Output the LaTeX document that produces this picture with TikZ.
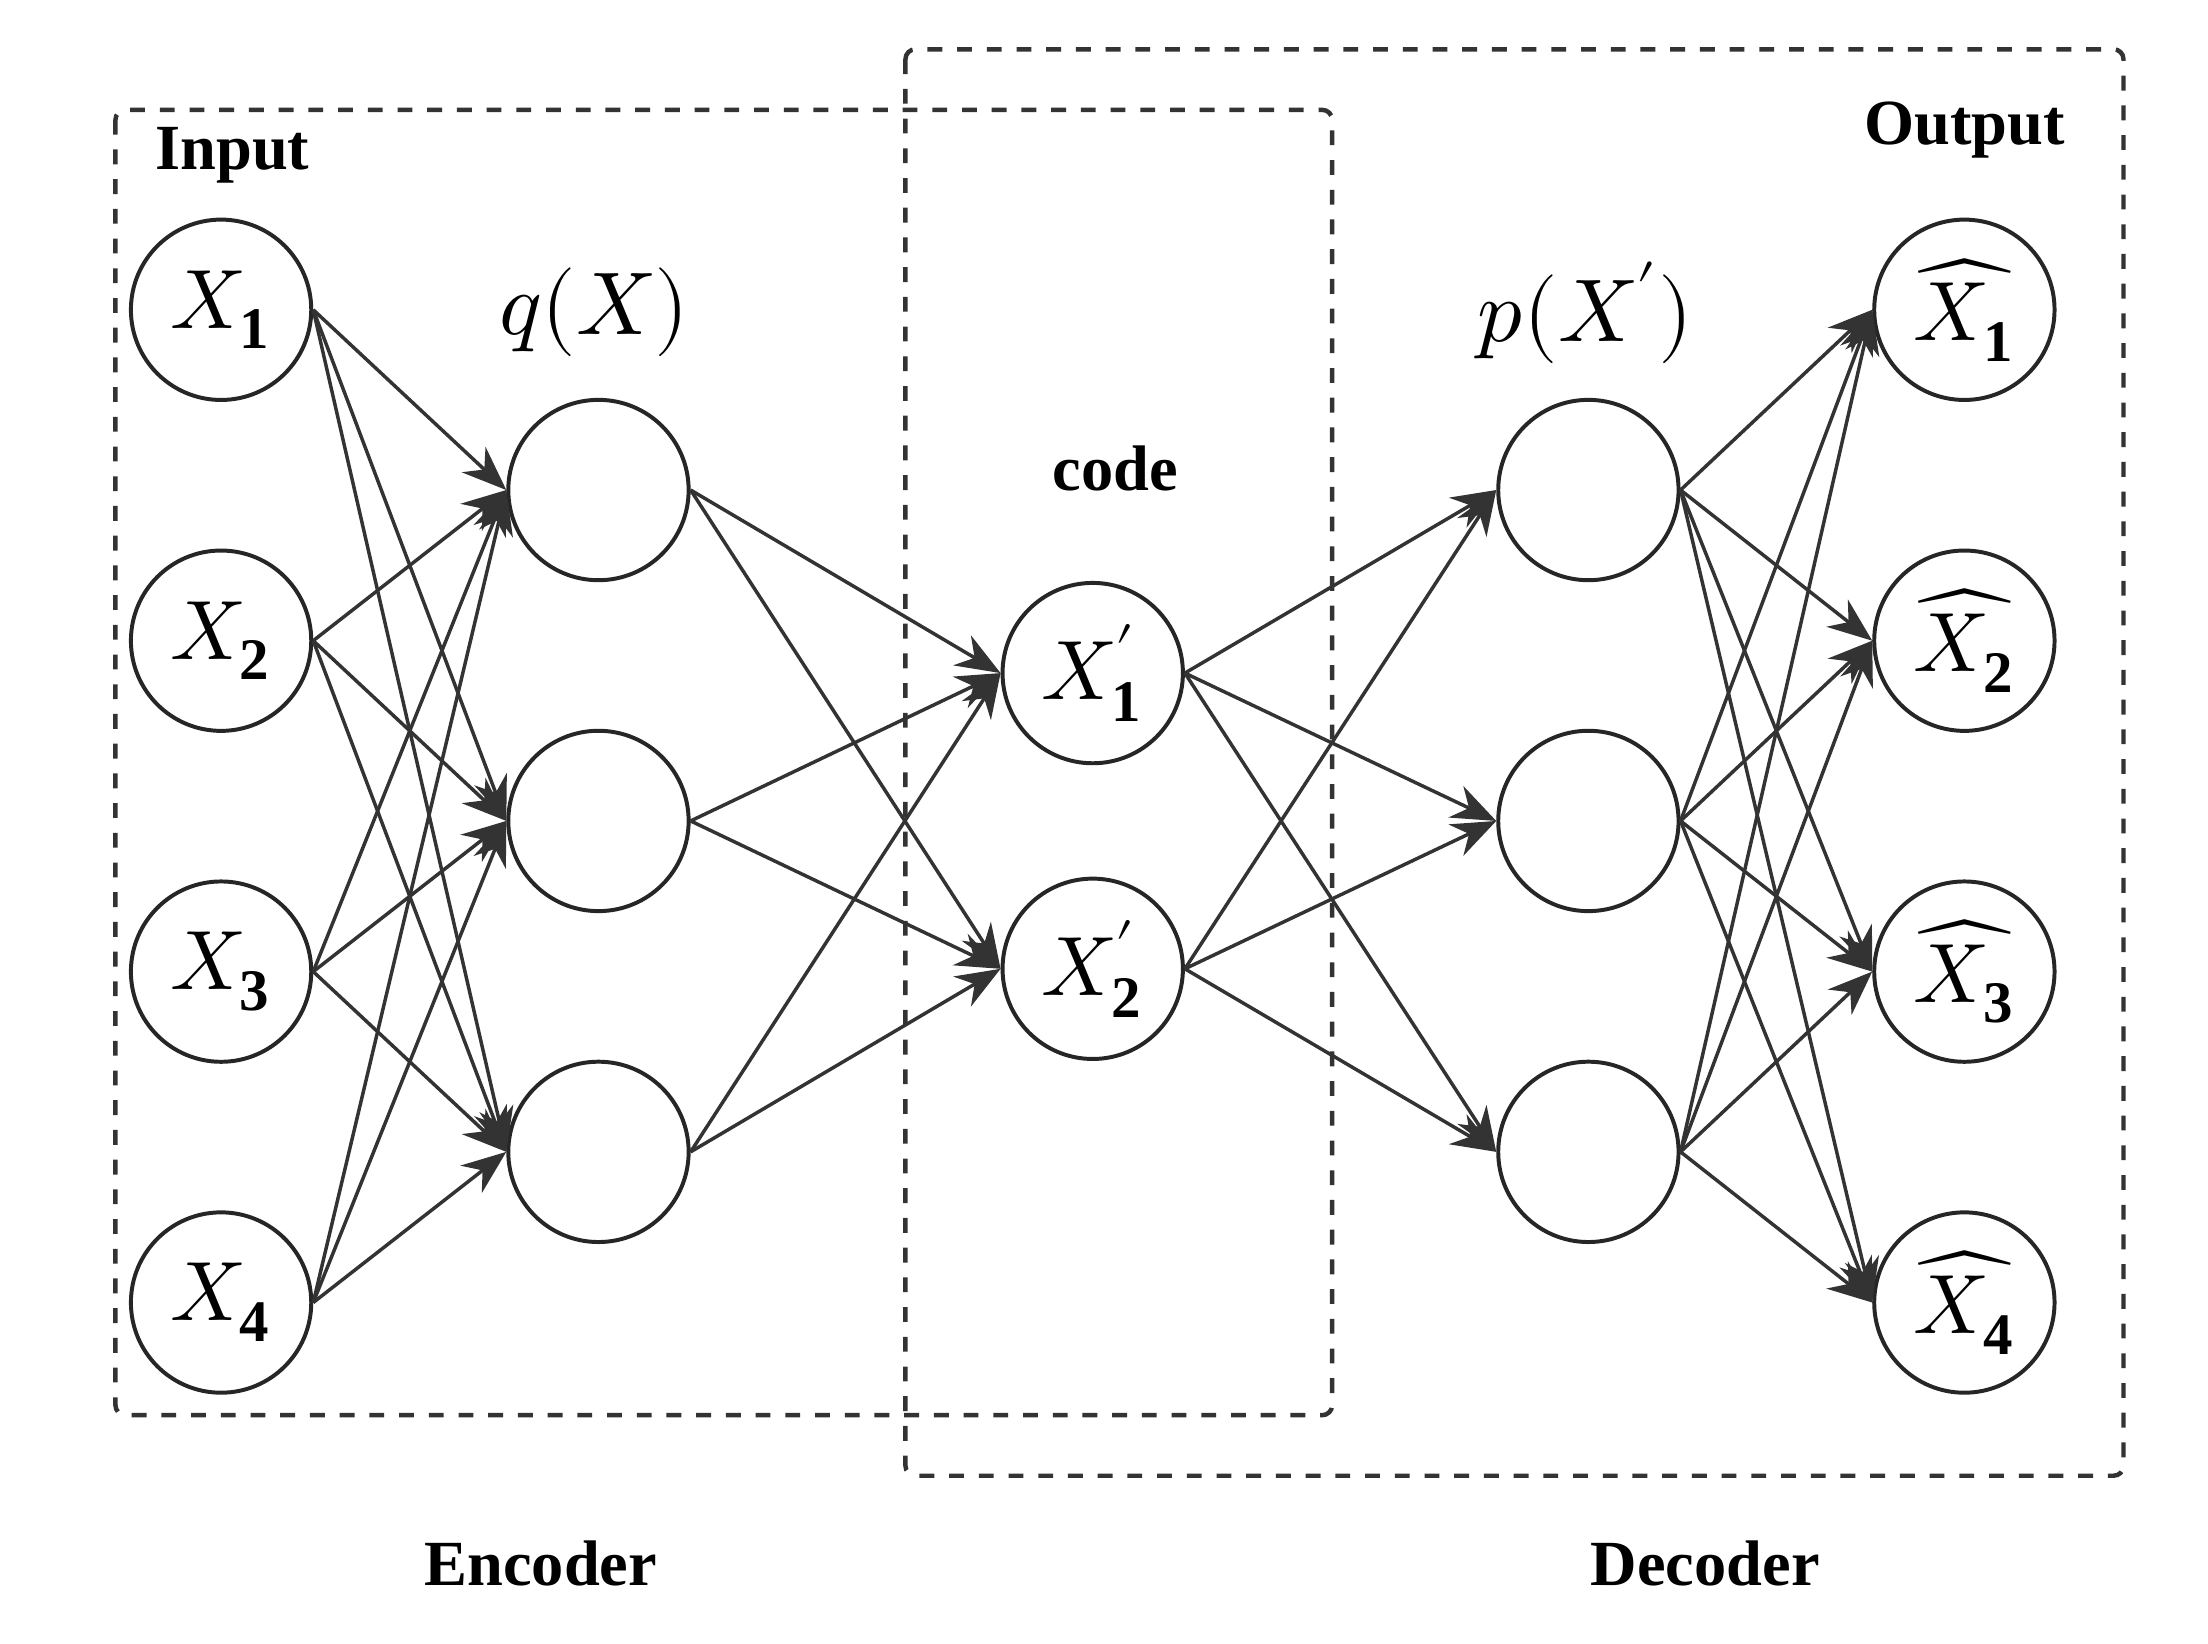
\documentclass[tikz,border=0pt]{standalone}
\usepackage{fontspec}
\setmainfont{Liberation Serif}
\usepackage{unicode-math}
\setmathfont{Latin Modern Math}
\usetikzlibrary{arrows.meta}
\begin{document}
\begin{tikzpicture}[x=0.01cm,y=-0.01cm,
  neuron/.style={circle,draw=black!85,line width=0.8pt,minimum size=1.28cm,inner sep=0pt,font=\fontsize{17}{20}\selectfont},
  edge/.style={draw=black!80,line width=0.7pt,-{Stealth[length=9pt,width=7pt]}},
  box/.style={draw=black!80,dashed,line width=0.9pt,rounded corners=2pt},
  lab/.style={font=\fontsize{13}{15}\selectfont\bfseries}]
\useasboundingbox (0,0) rectangle (1568,1167);
\foreach \i/\y in {1/220,2/455,3/690,4/925}{
  \node[neuron] (in\i) at (157,\y) {$X_{\mathbf{\i}}$};
  \node[neuron] (out\i) at (1395,\y) {$\widehat{X_{\mathbf{\i}}}$};}
\foreach \i/\y in {1/348,2/583,3/818}{
  \node[neuron] (ha\i) at (425,\y) {};
  \node[neuron] (hb\i) at (1128,\y) {};}
\node[neuron] (c1) at (776,478) {$X_{\mathbf{1}}'$};
\node[neuron] (c2) at (776,688) {$X_{\mathbf{2}}'$};
\foreach \i in {1,...,4}\foreach \j in {1,2,3}{
  \draw[edge] (in\i.east) -- (ha\j.west);
  \draw[edge] (hb\j.east) -- (out\i.west);}
\foreach \j in {1,2,3}\foreach \k in {1,2}{
  \draw[edge] (ha\j.east) -- (c\k.west);
  \draw[edge] (c\k.east) -- (hb\j.west);}
\draw[box] (82,78) rectangle (946,1005);
\draw[box] (643,35) rectangle (1508,1048);
\node[lab] (tin) at (165,110) {Input};
\node[lab] (tout) at (1395,92) {Output};
\node[lab] (tcode) at (792,333) {code};
\node[lab] (tenc) at (384,1110) {Encoder};
\node[lab] (tdec) at (1211,1110) {Decoder};
\node[font=\fontsize{18}{22}\selectfont] (tq) at (422,222) {$q(X)$};
\node[font=\fontsize{18}{22}\selectfont] (tp) at (1126,222) {$p(X')$};
\end{tikzpicture}
\end{document}
